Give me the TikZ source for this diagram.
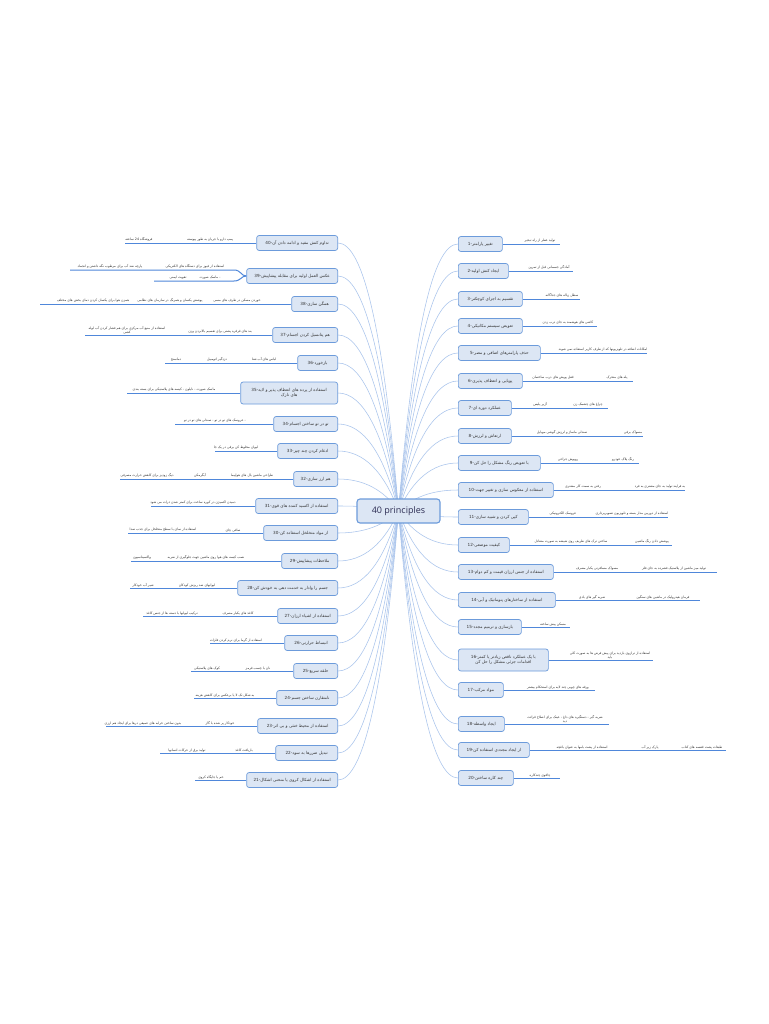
\documentclass[tikz,border=0pt]{standalone}
\usepackage{fontspec}
\usetikzlibrary{calc}
\newfontfamily\fa[Script=Arabic]{DejaVu Sans}
\newfontfamily\ctrfont{Open Sans}
\TeXXeTstate=1
\definecolor{nodef}{HTML}{DCE6F4}
\definecolor{nodeb}{HTML}{6C9BDB}
\definecolor{connc}{HTML}{A9C4EC}
\definecolor{leafc}{HTML}{4F87DA}
\definecolor{txt}{HTML}{333333}
\pgfdeclarelayer{bg}
\pgfsetlayers{bg,main}
\tikzset{
 sub/.style={draw=nodeb, fill=nodef, rounded corners=2.5pt, line width=0.7pt, inner xsep=2pt, inner ysep=0pt, minimum height=15pt, font=\fa\fontsize{4.2}{5.6}\selectfont, text=txt},
 leaf/.style={anchor=south, inner xsep=0pt, inner ysep=1pt, font=\fa\fontsize{3.3}{4.2}\selectfont, text=txt, align=center},
 leafln/.style={draw=leafc, line width=1pt},
 conn/.style={draw=connc, line width=0.55pt},
 ctrbox/.style={draw=nodeb, fill=nodef, rounded corners=3pt, line width=1.1pt, minimum width=83pt, minimum height=24pt, inner sep=0pt, font=\ctrfont\fontsize{9}{11}\selectfont, text=txt!85!blue}
}
\newcommand{\RN}[5]{%
 \node[sub, minimum width=#2pt, anchor=west] (#1) at (458,#3) {#4};
 \coordinate (#1e) at (#5,#3);
 \draw[leafln] (#1.east) -- (#1e);
 \begin{pgfonlayer}{bg}
 \draw[conn] let \p0=(ctr.center), \p1=(#1.west) in (\p0) .. controls ({\x0+14.67pt},{\y0+0.6667*(\y1-\y0)}) and ({\x1-25.33pt},\y1) .. (#1.west);
 \end{pgfonlayer}}
\newcommand{\LN}[5]{%
 \node[sub, minimum width=#2pt, anchor=east] (#1) at (338,#3) {#4};
 \coordinate (#1e) at (#5,#3);
 \draw[leafln] (#1.west) -- (#1e);
 \begin{pgfonlayer}{bg}
 \draw[conn] let \p0=(ctr.center), \p1=(#1.east) in (\p0) .. controls ({\x0-14.67pt},{\y0+0.6667*(\y1-\y0)}) and ({\x1+25.33pt},\y1) .. (#1.east);
 \end{pgfonlayer}}
\newcommand{\LF}[4]{\node[leaf] (#1) at (#2,#3) {#4};}
\begin{document}
\begin{tikzpicture}[x=1pt,y=-1pt]
\begin{pgfonlayer}{bg}
\fill[white] (0,0) rectangle (768,1024);
\end{pgfonlayer}
\useasboundingbox (0,0) rectangle (768,1024);
\node[ctrbox] (ctr) at (398.5,511) {40 principles};
% right side
\RN{r1}{44}{244}{\beginR تغییر پارامتر-1\endR}{560}
\LF{r1a}{540}{244}{\beginR تولید عطر از راه تبخیر\endR}
\RN{r2}{50}{271}{\beginR ایجاد کنش اولیه-2\endR}{573}
\LF{r2a}{549}{271}{\beginR آمادگی جسمانی قبل از تمرین\endR}
\RN{r3}{64}{299}{\beginR تقسیم به اجزای کوچکتر-3\endR}{580}
\LF{r3a}{562}{299}{\beginR سطل زباله های جداگانه\endR}
\RN{r4}{64}{326}{\beginR تعویض سیستم مکانیکی-4\endR}{597}
\LF{r4a}{568}{326}{\beginR کاشی های هوشمند به جای درب زدن\endR}
\RN{r5}{82}{353}{\beginR حذف پارامترهای اضافی و مضر-5\endR}{647}
\LF{r5a}{603}{353}{\beginR امکانات اضافه در تلویزیونها که از طرف کاربر استفاده نمی شوند\endR}
\RN{r6}{64}{381}{\beginR پویایی و انعطاف پذیری-6\endR}{633}
\LF{r6a}{553}{381}{\beginR قفل پویش های درب ساختمان\endR}
\LF{r6b}{617}{381}{\beginR پله های متحرک\endR}
\RN{r7}{53}{408}{\beginR عملکرد دوره ای-7\endR}{608}
\LF{r7a}{540}{408}{\beginR آژیر پلیس\endR}
\LF{r7b}{588}{408}{\beginR چراغ های چشمک زن\endR}
\RN{r8}{53}{436}{\beginR ارتعاش و لرزش-8\endR}{643}
\LF{r8a}{562}{436}{\beginR صندلی ماساژ و لرزش گوشی موبایل\endR}
\LF{r8b}{633}{436}{\beginR مسواک برقی\endR}
\RN{r9}{82}{463}{\beginR با تعویض رنگ مشکل را حل کن-9\endR}{639}
\LF{r9a}{568}{463}{\beginR روپوش جراحی\endR}
\LF{r9b}{623}{463}{\beginR رنگ پلاک خودرو\endR}
\RN{r10}{95}{490}{\beginR استفاده از معکوس سازی و تغییر جهت-10\endR}{685}
\LF{r10a}{583}{490}{\beginR رفتن به سمت کار مشتری\endR}
\LF{r10b}{660}{490}{\beginR به فرایند تولید به جای مشتری به فرد\endR}
\RN{r11}{70}{517}{\beginR کپی کردن و شبیه سازی-11\endR}{668}
\LF{r11a}{563}{517}{\beginR عروسک الکترونیکی\endR}
\LF{r11b}{632}{517}{\beginR استفاده از دوربین مدار بسته و تلویزیون تصویربرداری\endR}
\RN{r12}{51}{545}{\beginR کیفیت موضعی-12\endR}{672}
\LF{r12a}{571}{545}{\beginR ساختن ترک های ظریف روی شیشه به صورت متعادل\endR}
\LF{r12b}{652}{545}{\beginR پوشش دادن رنگ ماشین\endR}
\RN{r13}{95}{572}{\beginR استفاده از جنس ارزان قیمت و کم دوام-13\endR}{717}
\LF{r13a}{597}{572}{\beginR مسواک مسافرتی یکبار مصرف\endR}
\LF{r13b}{674}{572}{\beginR تولید میز ماشین از پلاستیک فشرده به جای فلز\endR}
\RN{r14}{97}{600}{\beginR استفاده از ساختارهای پنوماتیک و آبی-14\endR}{700}
\LF{r14a}{592}{600}{\beginR ضربه گیر های بادی\endR}
\LF{r14b}{663}{600}{\beginR فرمان هیدرولیک در ماشین های سنگین\endR}
\RN{r15}{63}{627}{\beginR بازسازی و ترمیم مجدد-15\endR}{570}
\LF{r15a}{553}{627}{\beginR مسکن پیش ساخته\endR}
% node 16 two lines
\node[sub, minimum width=90pt, minimum height=22pt, anchor=west, align=center] (r16) at (458,660) {\beginR با یک عملکرد ناقص زیادتر یا کمتر-16\endR\\\beginR اقدامات جزئی مشکل را حل کن\endR};
\coordinate (r16e) at (653,660);
\draw[leafln] (r16.east) -- (r16e);
\begin{pgfonlayer}{bg}
\draw[conn] let \p0=(ctr.center), \p1=(r16.west) in (\p0) .. controls ({\x0+14.67pt},{\y0+0.6667*(\y1-\y0)}) and ({\x1-25.33pt},\y1) .. (r16.west);
\end{pgfonlayer}
\node[leaf] (r16a) at (610,660) {\beginR استفاده از ترازوی بازدید برای پیش فرض ها به صورت کلی\endR\\\beginR باید\endR};
\RN{r17}{45}{690}{\beginR مواد مرکب-17\endR}{595}
\LF{r17a}{558}{690}{\beginR ورقه های چوبی چند لایه برای استحکام بیشتر\endR}
\RN{r18}{46}{724}{\beginR ایجاد واسطه-18\endR}{609}
\node[leaf] (r18a) at (565,724) {\beginR ضربه گیر - دستگیره های داغ - عینک برای اصلاح قرائت\endR\\\beginR دید\endR};
\RN{r19}{71}{750}{\beginR از ایجاد مجددی استفاده کن-19\endR}{726}
\LF{r19a}{582}{750}{\beginR استفاده از پشت بامها به عنوان باغچه\endR}
\LF{r19b}{650}{750}{\beginR پارک زیر آب\endR}
\LF{r19c}{702}{750}{\beginR طبقات پشت قفسه های کتاب\endR}
\RN{r20}{55}{778}{\beginR چند کاره ساختن-20\endR}{560}
\LF{r20a}{540}{778}{\beginR چاقوی چندکاره\endR}
% left side
\LN{l40}{81}{243}{\beginR تداوم کنش مفید و ادامه دادن آن-40\endR}{125}
\LF{l40a}{210}{243}{\beginR پمپ دارو با جریان به طور پیوسته\endR}
\LF{l40b}{139}{243}{\beginR فروشگاه \beginL 24\endL{} ساعته\endR}
\node[sub, minimum width=91pt, anchor=east] (l39) at (338,276) {\beginR عکس العمل اولیه برای مقابله پیشاپیش-39\endR};
\coordinate (l39u) at (70,270);
\coordinate (l39d) at (154,281);
\draw[leafln] (l39.west) .. controls (241,276) and (241,270) .. (234,270) -- (l39u);
\draw[leafln] (l39.west) .. controls (241,276) and (241,281) .. (234,281) -- (l39d);
\begin{pgfonlayer}{bg}
\draw[conn] let \p0=(ctr.center), \p1=(l39.east) in (\p0) .. controls ({\x0-14.67pt},{\y0+0.6667*(\y1-\y0)}) and ({\x1+25.33pt},\y1) .. (l39.east);
\end{pgfonlayer}
\LF{l39a}{195}{270}{\beginR استفاده از فیوز برای دستگاه های الکتریکی\endR}
\LF{l39b}{110}{270}{\beginR پارچه ضد آب برای مرطوب نگه داشتن و انجماد\endR}
\LF{l39c}{210}{281}{\beginR - ماسک صورت\endR}
\LF{l39d}{178}{281}{\beginR تقویت ایمنی\endR}
\LN{l38}{46}{304}{\beginR همگن سازی-38\endR}{40}
\LF{l38a}{237}{304}{\beginR خوردن مسکن در ظرف های مسی\endR}
\LF{l38b}{170}{304}{\beginR پوشش یکسان و همرنگ در سازمان های نظامی\endR}
\LF{l38c}{93}{304}{\beginR همزن هوا برای یکسان کردن دمای بخش های مختلف\endR}
\LN{l37}{65}{335}{\beginR هم پتانسیل کردن اجسام-37\endR}{85}
\LF{l37a}{220}{335}{\beginR بند های قرقره پشتی برای تقسیم بالابردن وزن\endR}
\node[leaf] (l37b) at (127,335) {\beginR استفاده از منبع آب مرکزی برای هم فشار کردن آب لوله\endR\\\beginR کشی\endR};
\LN{l36}{40}{363}{\beginR بازخورد-36\endR}{165}
\LF{l36a}{264}{363}{\beginR لباس های آب شنا\endR}
\LF{l36b}{217}{363}{\beginR دزدگیر اتومبیل\endR}
\LF{l36c}{176}{363}{\beginR دماسنج\endR}
\node[sub, minimum width=97pt, minimum height=22pt, anchor=east, align=center] (l35) at (338,393) {\beginR استفاده از پرده های انعطاف پذیر و لایه-35\endR\\\beginR های نازک\endR};
\coordinate (l35e) at (127,393);
\draw[leafln] (l35.west) -- (l35e);
\begin{pgfonlayer}{bg}
\draw[conn] let \p0=(ctr.center), \p1=(l35.east) in (\p0) .. controls ({\x0-14.67pt},{\y0+0.6667*(\y1-\y0)}) and ({\x1+25.33pt},\y1) .. (l35.east);
\end{pgfonlayer}
\LF{l35a}{174}{393}{\beginR ماسک صورت - نایلون - کیسه های پلاستیکی برای بسته بندی\endR}
\LN{l34}{64}{424}{\beginR تو در تو ساختن اجسام-34\endR}{175}
\LF{l34a}{215}{424}{\beginR - عروسک های تو در تو - صندلی های تو در تو\endR}
\LN{l33}{60}{451}{\beginR ادغام کردن چند چیز-33\endR}{215}
\LF{l33a}{236}{451}{\beginR لیوان مخلوط کن برقی در یک جا\endR}
\LN{l32}{44}{479}{\beginR هم ارز سازی-32\endR}{120}
\LF{l32a}{252}{479}{\beginR طراحی ماشین بال های هواپیما\endR}
\LF{l32b}{200}{479}{\beginR آبگرمکن\endR}
\LF{l32c}{147}{479}{\beginR دیگ زودپز برای کاهش حرارت مصرفی\endR}
\LN{l31}{82}{506}{\beginR استفاده از اکسید کننده های قوی-31\endR}{151}
\LF{l31a}{193}{506}{\beginR دمیدن اکسیژن در کوره ساخت برای کمتر شدن ذرات می شود\endR}
\LN{l30}{74}{533}{\beginR از مواد متخلخل استفاده کن-30\endR}{128}
\LF{l30a}{233}{533}{\beginR صافی چای\endR}
\LF{l30b}{163}{533}{\beginR استفاده از نمای با سطح متخلخل برای جذب صدا\endR}
\LN{l29}{56}{561}{\beginR ملاحظات پیشاپیش-29\endR}{131}
\LF{l29a}{206}{561}{\beginR نصب کیسه های هوا روی ماشین جهت جلوگیری از ضربه\endR}
\LF{l29b}{142}{561}{\beginR واکسیناسیون\endR}
\LN{l28}{100}{588}{\beginR جسم را وادار به خدمت دهی به خودش کن-28\endR}{130}
\LF{l28a}{197}{588}{\beginR لیوانهای ضد ریزش کودکان\endR}
\LF{l28b}{143}{588}{\beginR شیر آب خودکار\endR}
\LN{l27}{60}{616}{\beginR استفاده از اشیاء ارزان-27\endR}{143}
\LF{l27a}{238}{616}{\beginR کاغذ های یکبار مصرف\endR}
\LF{l27b}{172}{616}{\beginR ترکیب لیوانها با دسته ها از جنس کاغذ\endR}
\LN{l26}{53}{643}{\beginR انبساط حرارتی-26\endR}{210}
\LF{l26a}{236}{643}{\beginR استفاده از گرما برای نرم کردن فلزات\endR}
\LN{l25}{44}{671}{\beginR حلقه سریع-25\endR}{191}
\LF{l25a}{258}{671}{\beginR نان با چسب قرمز\endR}
\LF{l25b}{207}{671}{\beginR کوک های پلاستیکی\endR}
\LN{l24}{61}{698}{\beginR نامتقارن ساختن جسم-24\endR}{194}
\LF{l24a}{225}{698}{\beginR به شکل تک لا یا برعکس برای کاهش هزینه\endR}
\LN{l23}{80}{726}{\beginR استفاده از محیط خنثی و بی اثر-23\endR}{106}
\LF{l23a}{220}{726}{\beginR خودکار پر شده با گاز\endR}
\LF{l23b}{143}{726}{\beginR بدون ساختن خرابه های عمیقی درها برای ایجاد هم ارزی\endR}
\LN{l22}{62}{753}{\beginR تبدیل ضررها به سود-22\endR}{160}
\LF{l22a}{244}{753}{\beginR بازیافت کاغذ\endR}
\LF{l22b}{187}{753}{\beginR تولید برق از حرکات انسانها\endR}
\LN{l21}{91}{780}{\beginR استفاده از اشکال کروی یا منحنی اشکال-21\endR}{195}
\LF{l21a}{211}{780}{\beginR خم یا جایگاه کروی\endR}
\end{tikzpicture}
\end{document}
